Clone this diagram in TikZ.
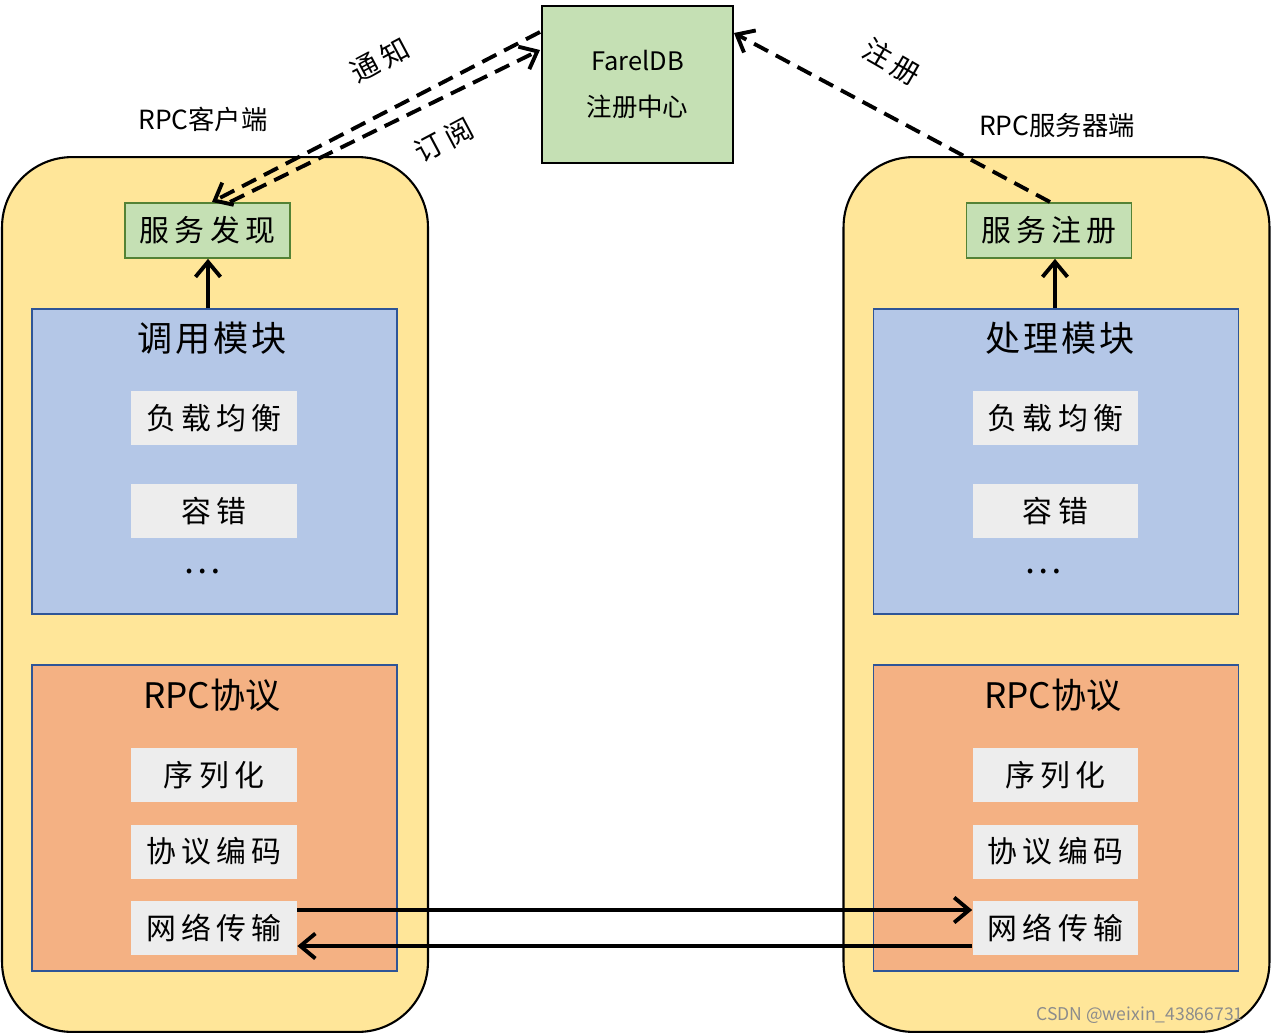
\documentclass[tikz,border=0pt]{standalone}
\usepackage{fontspec}
\setmainfont{Noto Sans CJK SC}
\newfontfamily\spaced[LetterSpace=18]{Noto Sans CJK SC}
\newfontfamily\heavy[LetterSpace=8]{Noto Sans CJK SC}[BoldFont=*]
\usetikzlibrary{arrows.meta}
\definecolor{yel}{HTML}{FFE699}
\definecolor{grn}{HTML}{C5E0B4}
\definecolor{grnb}{HTML}{548235}
\definecolor{blu}{HTML}{B4C7E7}
\definecolor{blub}{HTML}{2F5597}
\definecolor{org}{HTML}{F4B183}
\definecolor{gry}{HTML}{EDEDED}
\begin{document}
\begin{tikzpicture}[x=0.02cm,y=-0.02cm,
 cont/.style={draw=black,line width=1.2pt,fill=yel,rounded corners=1.4cm,minimum width=8.52cm,minimum height=17.5cm},
 gbox/.style={draw=grnb,line width=1pt,fill=grn,minimum width=3.3cm,minimum height=1.1cm,font=\spaced\fontsize{17}{20}\selectfont},
 mod/.style={draw=blub,line width=0.8pt,minimum width=7.3cm},
 item/.style={fill=gry,minimum width=3.32cm,minimum height=1.08cm,font=\spaced\fontsize{17}{20}\selectfont},
 head/.style={font=\heavy\fontsize{20}{22}\selectfont\bfseries},
 rhead/.style={font=\fontsize{20}{22}\selectfont},
 sarrow/.style={line width=2.2pt,-{Straight Barb[length=3mm,width=5mm]}},
 darrow/.style={line width=2.2pt,dash pattern=on 9pt off 5pt,-{Straight Barb[length=3mm,width=5mm]}},
 lbl/.style={font=\fontsize{15}{17}\selectfont},
 rl/.style={font=\spaced\fontsize{16}{18}\selectfont,inner sep=0pt}]
\useasboundingbox (0,0) rectangle (1272,1035);
\node[draw=black,fill=grn,line width=0.6pt,minimum width=3.82cm,minimum height=3.14cm,align=center,font=\fontsize{14.5}{26}\selectfont] (db) at (637.5,84.5) {FarelDB\\注册中心};
\node[cont] (cl) at (215,594.5) {};
\node[cont] (sv) at (1056.5,594.5) {};
\node[lbl] (clt) at (203,119) {RPC客户端};
\node[lbl] (svt) at (1057,125) {RPC服务器端};
% client
\node[gbox] (disc) at (207.5,230.5) {服务发现};
\node[mod,fill=blu,minimum height=6.1cm] (call) at (214.5,461.5) {};
\node[head] (callt) at (212,338) {调用模块};
\node[item] (c1) at (214,418) {负载均衡};
\node[item] (c2) at (214,511) {容错};
\node[head] (c3) at (202,572) {…};
\node[mod,fill=org,minimum height=6.12cm] (rpc) at (214.5,818) {};
\node[rhead] (rpct) at (212,695) {RPC协议};
\node[item] (c4) at (214,775) {序列化};
\node[item] (c5) at (214,851.5) {协议编码};
\node[item] (c6) at (214,927.5) {网络传输};
% server
\node[gbox] (reg) at (1049,230.5) {服务注册};
\node[mod,fill=blu,minimum height=6.1cm] (proc) at (1056,461.5) {};
\node[head] (proct) at (1060,338) {处理模块};
\node[item] (s1) at (1055.5,418) {负载均衡};
\node[item] (s2) at (1055.5,511) {容错};
\node[head] (s3) at (1043,572) {…};
\node[mod,fill=org,minimum height=6.12cm] (rpc2) at (1056,818) {};
\node[rhead] (rpc2t) at (1053,695) {RPC协议};
\node[item] (s4) at (1055.5,775) {序列化};
\node[item] (s5) at (1055.5,851.5) {协议编码};
\node[item] (s6) at (1055.5,927.5) {网络传输};
% arrows
\draw[sarrow] (call.north -| 208,0) -- (disc.south -| 208,0);
\draw[sarrow] (proc.north -| 1055,0) -- (reg.south -| 1055,0);
\draw[sarrow] (c6.east |- 0,910) -- (s6.west |- 0,910);
\draw[sarrow] (s6.west |- 0,946) -- (c6.east |- 0,946);
\coordinate (d1) at (540,32);
\coordinate (d2) at (540,50);
\draw[darrow] (d1) -- (212,202);
\draw[darrow] (230,202) -- (d2);
\draw[darrow] (1050,202) -- (734,33);
\node[rl,rotate=28] (n1) at (380,60) {通知};
\node[rl,rotate=28] (n2) at (444,140) {订阅};
\node[rl,rotate=-30] (n3) at (892,62) {注册};
\node[font=\fontsize{10}{12}\selectfont,text=black!45] (wm) at (1140,1015) {CSDN @weixin\_43866731};
\end{tikzpicture}
\end{document}
